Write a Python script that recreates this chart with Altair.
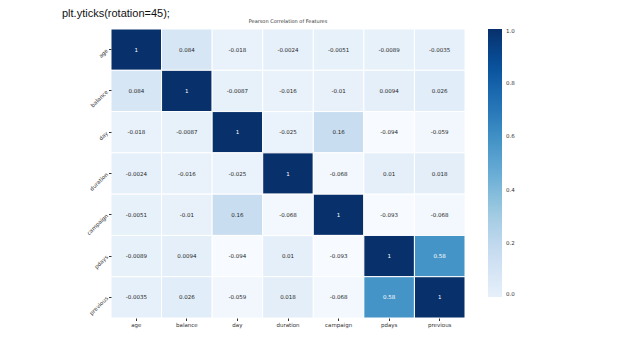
import altair as alt
import pandas as pd

features = ["age", "balance", "day", "duration", "campaign", "pdays", "previous"]
age = [1, 0.084, -0.018, -0.0024, -0.0051, -0.0089, -0.0035]
balance = [0.084, 1, -0.0087, -0.016, -0.01, 0.0094, 0.026]
day = [-0.018, -0.0087, 1, -0.025, 0.16, -0.094, -0.059]
duration = [-0.0024, -0.016, -0.025, 1, -0.068, 0.01, 0.018]
campaign = [-0.0051, -0.01, 0.16, -0.068, 1, -0.093, -0.068]
pdays = [-0.0089, 0.0094, -0.094, 0.01, -0.093, 1, 0.58]
previous = [-0.0035, 0.026, -0.059, 0.018, -0.068, 0.58, 1]
rows = [age, balance, day, duration, campaign, pdays, previous]
colorbar_ticks = [0.0, 0.2, 0.4, 0.6, 0.8, 1.0]
blues = ["#f7fbff", "#deebf7", "#c6dbef", "#9ecae1", "#6baed6",
         "#4292c6", "#2171b5", "#08519c", "#08306b"]
blues_at_zero = "#e6f0fa"
chart_title = "Pearson Correlation of Features"
slide_text = "plt.yticks(rotation=45);"

records = []
for r, name in enumerate(features):
    for c, col in enumerate(features):
        v = rows[r][c]
        records.append({"row": name, "col": col, "value": v, "label": format(v, ".2g")})
df = pd.DataFrame(records)

vmin = min(min(r) for r in rows)
vmax = 1.0
stops = [vmin + (vmax - vmin) * i / 8 for i in range(9)]

FONT = "DejaVu Sans"
W, H = 354, 289

base = alt.Chart(df).encode(
    x=alt.X("col:N", sort=features, title=None,
            axis=alt.Axis(labelAngle=0, labelPadding=2, tickSize=2.5)),
    y=alt.Y("row:N", sort=features, title=None,
            axis=alt.Axis(labelAngle=315, labelAlign="right", labelBaseline="middle",
                          labelPadding=2, tickSize=2.5)),
)

rect = base.mark_rect(stroke="white", strokeWidth=1).encode(
    fill=alt.Fill("value:Q",
                  scale=alt.Scale(domain=stops, range=blues, clamp=True, interpolate="rgb"),
                  legend=None)
)

colorbar = base.mark_point(opacity=0).encode(
    color=alt.Color(
        "value:Q",
        scale=alt.Scale(domain=[0.0] + stops[1:], range=[blues_at_zero] + blues[1:],
                        clamp=True, interpolate="rgb"),
        legend=alt.Legend(title=None, orient="right", offset=23, gradientLength=268,
                          gradientThickness=14, values=colorbar_ticks, format=".1f",
                          labelFontSize=5.5, labelFont=FONT, labelColor="#333",
                          gradientStrokeWidth=0, padding=0, labelOffset=4,
                          direction="vertical", labelOverlap=False),
    )
)

text = base.mark_text(fontSize=5.5, font=FONT).encode(
    text="label:N",
    color=alt.condition(alt.datum.value > 0.5, alt.value("white"), alt.value("#262626")),
)

heading = alt.Chart(pd.DataFrame({"t": [chart_title]})).mark_text(
    align="center", baseline="bottom", fontSize=5, font=FONT, color="#333"
).encode(x=alt.value(W / 2), y=alt.value(-5), text="t:N")

chart = alt.layer(rect, colorbar, text, heading).properties(
    width=W,
    height=H,
    title=alt.TitleParams(slide_text, fontSize=11, font="Liberation Sans", offset=0,
                          color="#111", anchor="start", frame="group", dx=-49,
                          fontWeight="normal"),
    padding={"left": 54, "top": 0, "right": 5, "bottom": 5},
).configure_view(stroke=None).configure_axis(
    labelFont=FONT, labelFontSize=5.5, labelColor="#333", tickColor="#333",
    domain=False
)

chart.save("out.html", embed_options={"renderer": "svg", "actions": False})
